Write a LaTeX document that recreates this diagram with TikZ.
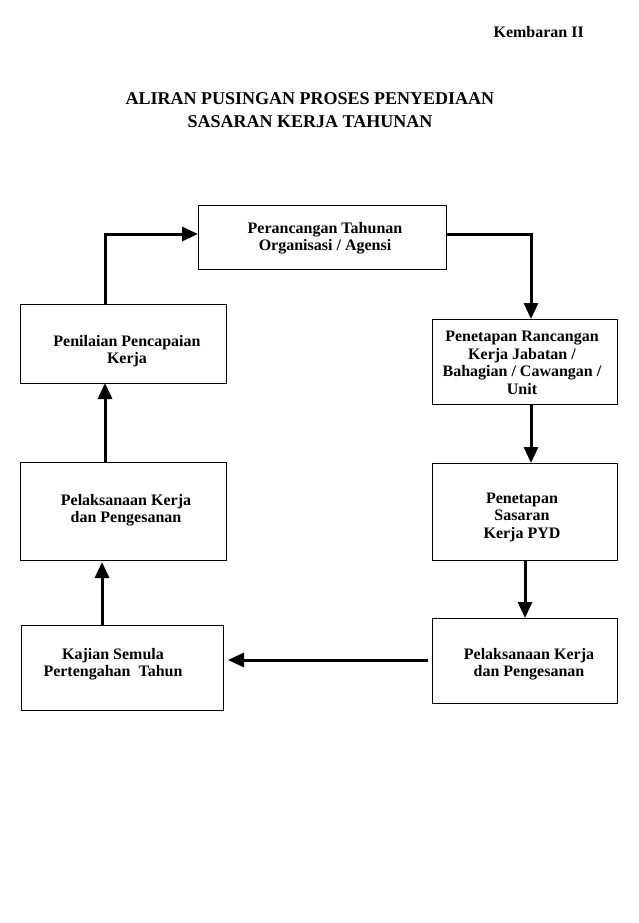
\documentclass[tikz,border=0pt]{standalone}
\usepackage{fontspec}
\setmainfont{Liberation Serif}
\usetikzlibrary{arrows.meta}
\begin{document}
\begin{tikzpicture}[x=1pt,y=-1pt,
 box/.style={draw,line width=0.8pt},
 t/.style={font=\fontsize{16}{17.5}\selectfont\bfseries,align=center,inner sep=0},
 arr/.style={line width=3pt,-{Triangle[length=16pt,width=14pt]}}]
\useasboundingbox[fill=white] (0,0) rectangle (638,923);
\node[t,anchor=east] (k) at (584,32) {Kembaran II};
\node[t,font=\fontsize{18}{23}\selectfont\bfseries] (title) at (310,110) {ALIRAN PUSINGAN PROSES PENYEDIAAN\\SASARAN KERJA TAHUNAN};
\draw[box] (198,205) rectangle (446,269); \node[t] (a) at (325,238) {Perancangan Tahunan\\Organisasi / Agensi};
\draw[box] (432,319) rectangle (617,404); \node[t] (b) at (522,363) {Penetapan Rancangan\\Kerja Jabatan /\\Bahagian / Cawangan /\\Unit};
\draw[box] (432,463) rectangle (617,560); \node[t] (c) at (522,517) {Penetapan\\Sasaran\\Kerja PYD};
\draw[box] (432,618) rectangle (617,703); \node[t] (d) at (529,664) {Pelaksanaan Kerja\\dan Pengesanan};
\draw[box] (21,625) rectangle (223,710); \node[t] (e) at (113,664) {Kajian Semula\\Pertengahan~ Tahun};
\draw[box] (20,462) rectangle (226,560); \node[t] (f) at (126,510) {Pelaksanaan Kerja\\dan Pengesanan};
\draw[box] (20,304) rectangle (226,383); \node[t] (g) at (127,351) {Penilaian Pencapaian\\Kerja};
\coordinate (p1) at (105,304); \coordinate (p2) at (105,234); \coordinate (p3) at (198,234);
\draw[arr] (p1) -- (p2) -- (p3);
\coordinate (q1) at (446,234); \coordinate (q2) at (531,234); \coordinate (q3) at (531,319);
\draw[arr] (q1) -- (q2) -- (q3);
\coordinate (r1) at (531,404); \coordinate (r2) at (531,463); \draw[arr] (r1) -- (r2);
\coordinate (s1) at (525,560); \coordinate (s2) at (525,618); \draw[arr] (s1) -- (s2);
\coordinate (u1) at (428,660); \coordinate (u2) at (228,660); \draw[arr] (u1) -- (u2);
\coordinate (v1) at (102,625); \coordinate (v2) at (102,562); \draw[arr] (v1) -- (v2);
\coordinate (w1) at (105,462); \coordinate (w2) at (105,383); \draw[arr] (w1) -- (w2);
\end{tikzpicture}
\end{document}
